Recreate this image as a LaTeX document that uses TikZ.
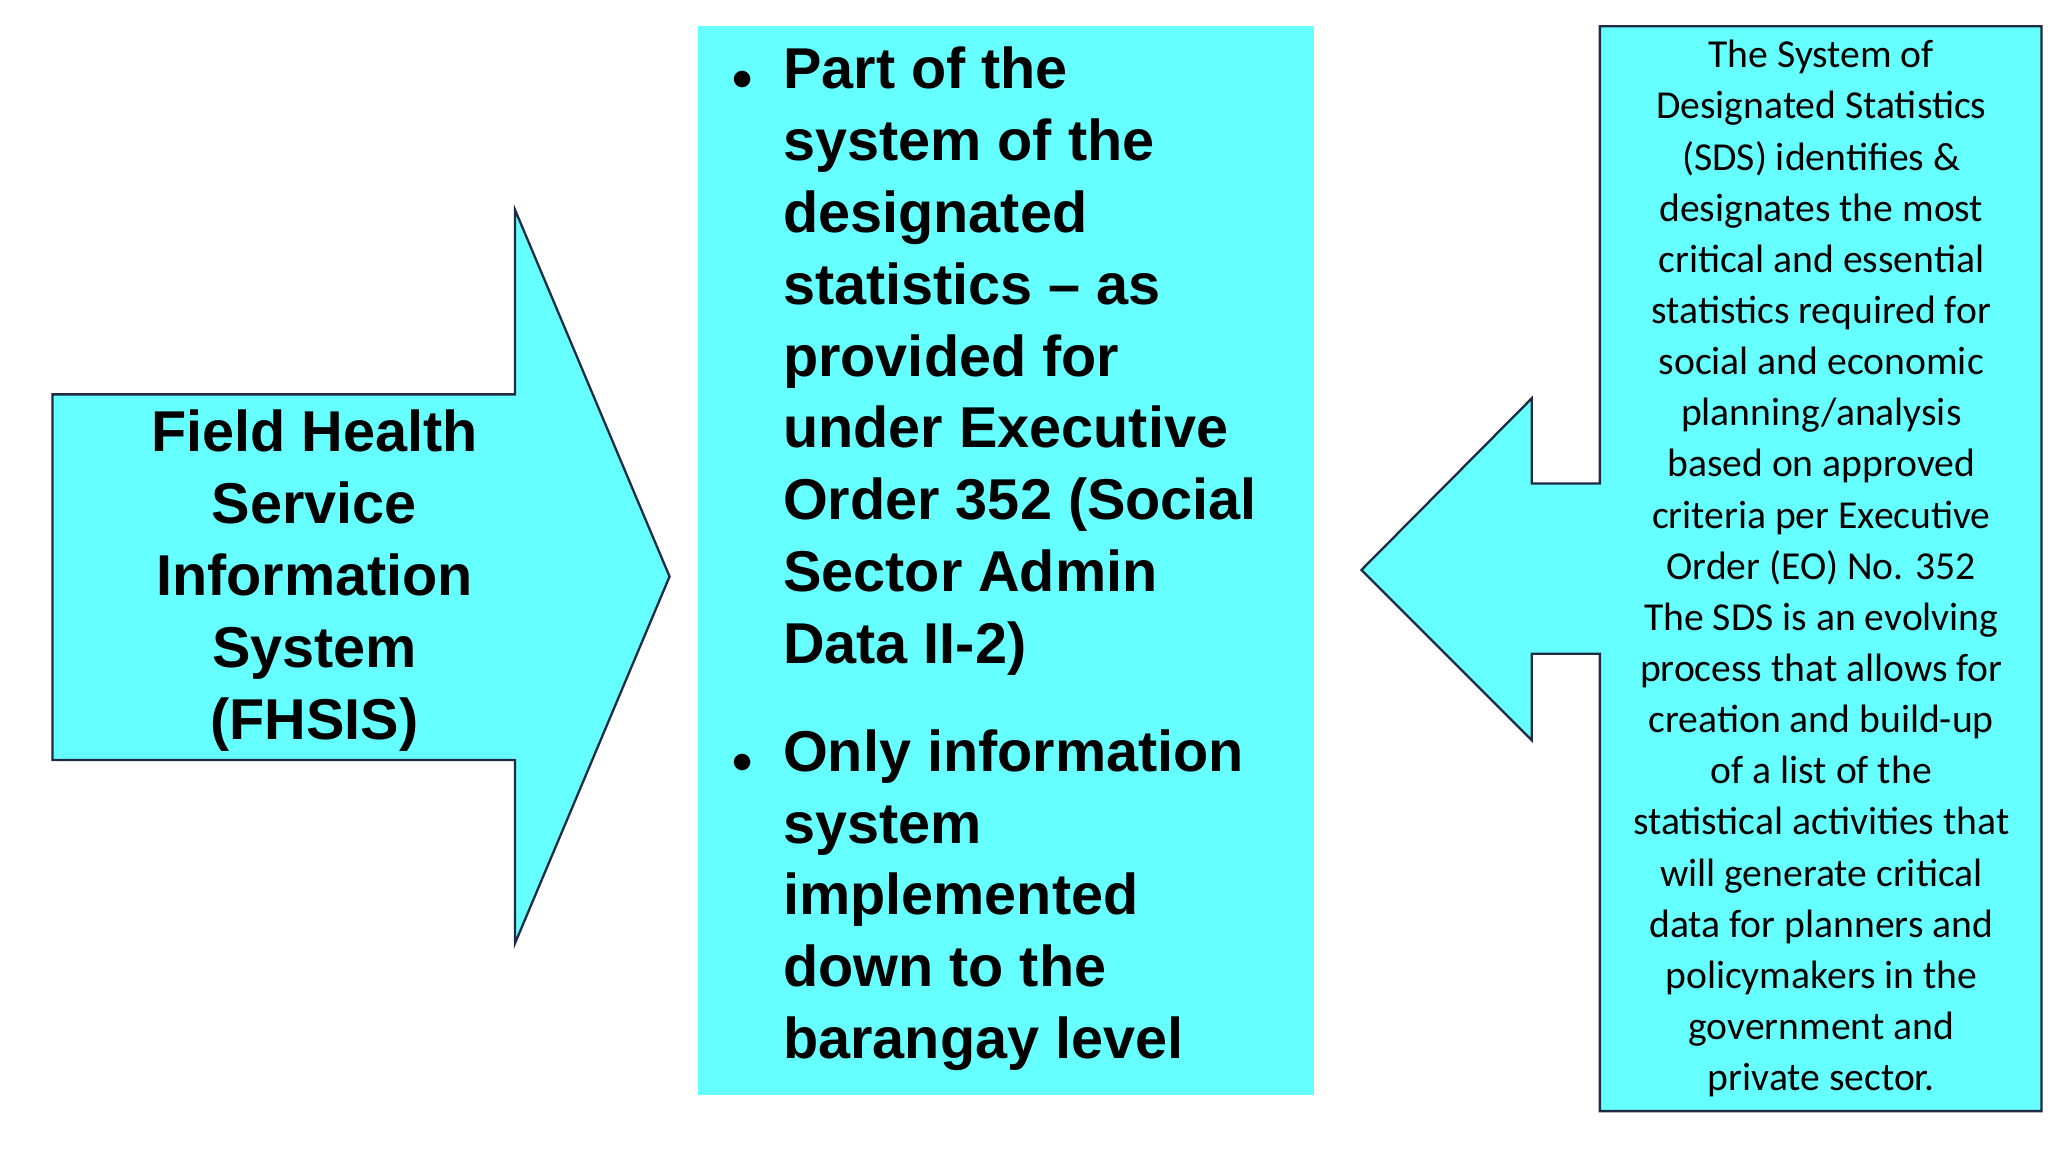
\documentclass[tikz,border=0pt]{standalone}
\usepackage{fontspec}
\setmainfont{Liberation Sans}
\newfontfamily\calib{Carlito}
\definecolor{cy}{HTML}{66FFFF}
\definecolor{edge}{HTML}{1F2A44}
\begin{document}
\begin{tikzpicture}[x=0.01cm,y=-0.01cm,
  shapeline/.style={draw=edge,line width=0.5pt,fill=cy},
  bigtxt/.style={font=\fontsize{12.5}{15.6}\selectfont\bfseries,inner sep=0pt},
  smalltxt/.style={font=\calib\fontsize{8.6}{11.1}\selectfont,align=center,inner sep=0pt}]
\useasboundingbox[fill=white] (0,0) rectangle (1563,879);
\draw[shapeline] (40,301) -- (393,301) -- (393,160) -- (511,440) -- (393,720) -- (393,580) -- (40,580) -- cycle;
\node[bigtxt,align=center] (lt) at (240,443) {Field Health\\Service\\Information\\System\\(FHSIS)};
\fill[cy] (533,20) rectangle (1003,836);
\node[bigtxt,align=left,anchor=north west] (b1) at (597,35) {Part of the\\system of the\\designated\\statistics -- as\\provided for\\under Executive\\Order 352 (Social\\Sector Admin\\Data II-2)};
\node[bigtxt,anchor=base] (d1) at (567,0 |- b1.north) [yshift=-11.5pt] {\textbullet};
\node[bigtxt,align=left,anchor=north west] (b2) at (597,556) {Only information\\system\\implemented\\down to the\\barangay level};
\node[bigtxt,anchor=base] (d2) at (567,0 |- b2.north) [yshift=-11.5pt] {\textbullet};
\draw[shapeline] (1221,20) -- (1558,20) -- (1558,848) -- (1221,848) -- (1221,499) -- (1169,499) -- (1169,565) -- (1039,435) -- (1169,304) -- (1169,369) -- (1221,369) -- cycle;
\node[smalltxt] (rt) at (1390,434) {The System of\\Designated Statistics\\(SDS) identifies \&\\designates the most\\critical and essential\\statistics required for\\social and economic\\planning/analysis\\based on approved\\criteria per Executive\\Order (EO) No. 352\\The SDS is an evolving\\process that allows for\\creation and build-up\\of a list of the\\statistical activities that\\will generate critical\\data for planners and\\policymakers in the\\government and\\private sector.};
\end{tikzpicture}
\end{document}
